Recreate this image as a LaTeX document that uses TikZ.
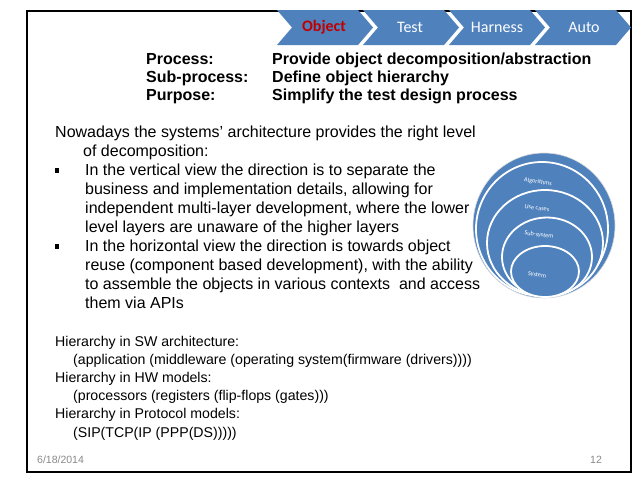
\documentclass[tikz,border=0pt]{standalone}
\usepackage{fontspec}
\setmainfont{Liberation Sans}
\newfontfamily\calibri{Carlito}
\definecolor{chev}{RGB}{79,129,189}
\definecolor{objred}{RGB}{192,0,0}
\definecolor{foot}{RGB}{137,137,137}
\begin{document}
\begin{tikzpicture}[x=1pt,y=-1pt,
  body/.style={anchor=base west, inner sep=0pt, font=\fontsize{16}{19}\selectfont},
  lower/.style={anchor=base west, inner sep=0pt, font=\fontsize{14.15}{18}\selectfont},
  hdr/.style={anchor=base west, inner sep=0pt, font=\fontsize{16}{19}\selectfont\bfseries},
  chevtext/.style={inner sep=0pt, font=\calibri\fontsize{16}{18}\selectfont, text=white},
  chevshape/.style={fill=chev},
  ring/.style={fill=chev, draw=white, line width=1.8pt},
  ringtext/.style={inner sep=0pt, font=\calibri\fontsize{6.3}{7}\selectfont, text=white, rotate=-8},
  bul/.style={fill=black, minimum width=3.6pt, minimum height=4.6pt, inner sep=0pt},
  footer/.style={anchor=base west, inner sep=0pt, font=\fontsize{10.5}{12}\selectfont, text=foot}
]
\useasboundingbox (0,0) rectangle (638,479);
\fill[white] (0,0) rectangle (638,479);
% frame
\draw[line width=1.3pt] (27,11) rectangle (631,472);
% chevrons
\foreach \x in {277,363,449,535} {
  \fill[chevshape] (\x,10) -- ++(81,0) -- ++(15,17.5) -- ++(-15,17.5) -- ++(-81,0) -- ++(15,-17.5) -- cycle;
}
\node[chevtext, text=objred, font=\calibri\fontsize{16}{18}\selectfont\bfseries] (cObject) at (324,27.5) {Object};
\node[chevtext] (cTest) at (410,27.5) {Test};
\node[chevtext] (cHarness) at (497,27.5) {Harness};
\node[chevtext] (cAuto) at (584,27.5) {Auto};
% header
\node[hdr] (h1) at (146,64) {Process:};
\node[hdr] (h1b) at (272,64) {Provide object decomposition/abstraction};
\node[hdr] (h2) at (146,82) {Sub-process:};
\node[hdr] (h2b) at (272,82) {Define object hierarchy};
\node[hdr] (h3) at (146,100) {Purpose:};
\node[hdr] (h3b) at (272,100) {Simplify the test design process};
% body
\node[body] (b0) at (55,137) {Nowadays the systems’ architecture provides the right level};
\node[body] (b1) at (83,156) {of decomposition:};
\node[bul] (u1) at (57,170.5) {};
\node[body] (b2) at (85,175) {In the vertical view the direction is to separate the};
\node[body] (b3) at (85,194) {business and implementation details, allowing for};
\node[body] (b4) at (85,213) {independent multi-layer development, where the lower};
\node[body] (b5) at (85,232) {level layers are unaware of the higher layers};
\node[bul] (u2) at (57,246.5) {};
\node[body] (b6) at (85,251) {In the horizontal view the direction is towards object};
\node[body] (b7) at (85,270) {reuse (component based development), with the ability};
\node[body] (b8) at (85,289) {to assemble the objects in various contexts\ \ and access};
\node[body] (b9) at (85,308) {them via APIs};
% lower block
\node[lower] (s0) at (55,346) {Hierarchy in SW architecture:};
\node[lower] (s1) at (73,364.2) {(application (middleware (operating system(firmware (drivers))))};
\node[lower] (s2) at (55,382.4) {Hierarchy in HW models:};
\node[lower] (s3) at (73,400.6) {(processors (registers (flip-flops (gates)))};
\node[lower] (s4) at (55,418.8) {Hierarchy in Protocol models:};
\node[lower] (s5) at (73,437) {(SIP(TCP(IP (PPP(DS)))))};
% nested circles
\draw[fill=chev, draw=black!15, line width=0.6pt] (544,225.5) ellipse [x radius=71pt, y radius=72.5pt];
\draw[ring] (542,229) ellipse [x radius=66pt, y radius=67pt];
\draw[ring] (545,243) ellipse [x radius=58pt, y radius=53pt];
\draw[ring] (547,257) ellipse [x radius=45pt, y radius=39.5pt];
\draw[ring] (545,271.5) ellipse [x radius=34pt, y radius=25.5pt];
\node[ringtext] (r1) at (538,182) {Algorithms};
\node[ringtext] (r2) at (537,208) {Use cases};
\node[ringtext] (r3) at (539,235) {Sub-system};
\node[ringtext] (r4) at (537,275) {System};
% footer
\node[footer] (date) at (37,463) {6/18/2014};
\node[footer] (page) at (590,463) {12};
\end{tikzpicture}
\end{document}
